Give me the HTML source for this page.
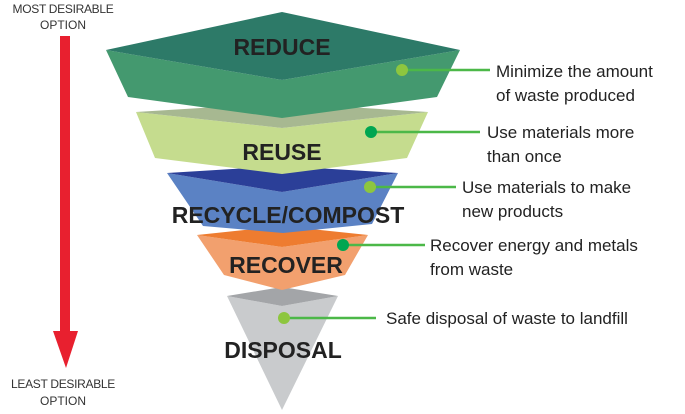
<!DOCTYPE html>
<html><head><meta charset="utf-8"><style>
html,body{margin:0;padding:0;background:#fff;}
svg{display:block;}
text{font-family:"Liberation Sans",Arial,sans-serif;}
</style></head><body>
<svg width="685" height="414" viewBox="0 0 685 414" xmlns="http://www.w3.org/2000/svg">
<rect width="685" height="414" fill="#fff"/>
<!-- left arrow -->
<text x="63" y="13" font-size="12" fill="#333" text-anchor="middle" letter-spacing="-0.3">MOST DESIRABLE</text>
<text x="63" y="29" font-size="12" fill="#333" text-anchor="middle">OPTION</text>
<rect x="60" y="36" width="10" height="298" fill="#e8202f"/>
<polygon points="53,331 78,331 66,368" fill="#e8202f"/>
<text x="63" y="388" font-size="12" fill="#333" text-anchor="middle" letter-spacing="-0.3">LEAST DESIRABLE</text>
<text x="63" y="405" font-size="12" fill="#333" text-anchor="middle">OPTION</text>

<!-- DISPOSAL -->
<polygon points="227,296 282,306 338,296 282,410" fill="#c9cbcd"/>
<polygon points="227,296 282,287 338,296 282,306" fill="#a3a5a8"/>
<!-- RECOVER -->
<polygon points="197,235 282,247 368,235 345,275 282,290 224,275" fill="#f2a06e"/>
<polygon points="197,235 282,226 368,235 282,247" fill="#ee7c30"/>
<!-- RECYCLE -->
<polygon points="167,173 282,192 398,173 372,224 283,233 203,226" fill="#5b82c4"/>
<polygon points="167,173 282,166 398,173 282,192" fill="#2b3f98"/>
<!-- REUSE -->
<polygon points="136,112 282,128 428,112 407,158 282,174 155,158" fill="#c5dc8e"/>
<polygon points="136,112 282,103 428,112 282,128" fill="#a7b891"/>
<!-- REDUCE -->
<polygon points="106,50 282,80 460,50 437,97 282,118 128,97" fill="#44996f"/>
<polygon points="106,50 282,12 460,50 282,80" fill="#2d7a68"/>

<!-- labels -->
<g font-weight="bold" fill="#222" text-anchor="middle">
<text x="282" y="55" font-size="23">REDUCE</text>
<text x="282" y="160" font-size="23">REUSE</text>
<text x="288" y="223" font-size="23">RECYCLE/COMPOST</text>
<text x="286" y="273" font-size="23">RECOVER</text>
<text x="283" y="358" font-size="23">DISPOSAL</text>
</g>

<!-- connectors -->
<g stroke="#4cb848" stroke-width="2.5">
<line x1="402" y1="70" x2="490" y2="70"/>
<line x1="371" y1="132" x2="480" y2="132"/>
<line x1="370" y1="187" x2="456" y2="187"/>
<line x1="343" y1="245" x2="425" y2="245"/>
<line x1="284" y1="318" x2="376" y2="318"/>
</g>
<circle cx="402" cy="70" r="6" fill="#8dc63f"/>
<circle cx="371" cy="132" r="6" fill="#00a651"/>
<circle cx="370" cy="187" r="6" fill="#8dc63f"/>
<circle cx="343" cy="245" r="6" fill="#00a651"/>
<circle cx="284" cy="318" r="6" fill="#8dc63f"/>

<g font-size="17" fill="#222">
<text x="496" y="77">Minimize the amount</text>
<text x="496" y="101">of waste produced</text>
<text x="487" y="138">Use materials more</text>
<text x="487" y="162">than once</text>
<text x="462" y="193">Use materials to make</text>
<text x="462" y="217">new products</text>
<text x="430" y="251">Recover energy and metals</text>
<text x="430" y="275">from waste</text>
<text x="386" y="324">Safe disposal of waste to landfill</text>
</g>
</svg>
</body></html>
